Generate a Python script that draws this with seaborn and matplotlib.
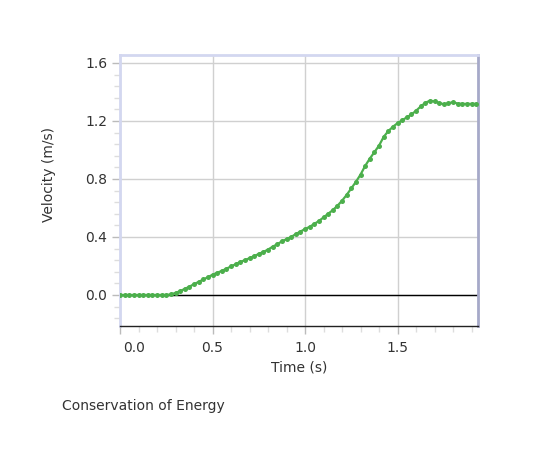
import numpy as np
import pandas as pd
import seaborn as sns
import matplotlib.pyplot as plt
from matplotlib.ticker import MultipleLocator
from matplotlib.transforms import ScaledTranslation

# time samples (s), one every 0.025 s
time_s = [round(i * 0.025, 3) for i in range(78)]

velocity = [
    0.0, 0.0, 0.0, 0.0, 0.0, 0.0, 0.0, 0.0, 0.0, 0.0, 0.0,
    0.004, 0.014, 0.027, 0.042, 0.057, 0.075, 0.090, 0.107, 0.122, 0.140,
    0.153, 0.166, 0.181, 0.197, 0.212, 0.228, 0.240, 0.254, 0.268, 0.283,
    0.297, 0.313, 0.333, 0.350, 0.370, 0.385, 0.400, 0.420, 0.437, 0.455,
    0.470, 0.490, 0.510, 0.535, 0.560, 0.585, 0.615, 0.650, 0.690, 0.735,
    0.780, 0.830, 0.890, 0.940, 0.985, 1.030, 1.090, 1.130, 1.160, 1.185,
    1.205, 1.225, 1.245, 1.270, 1.300, 1.325, 1.340, 1.335, 1.325, 1.315,
    1.322, 1.330, 1.320, 1.318, 1.318, 1.318, 1.318,
]

x_ticks = [0.0, 0.5, 1.0, 1.5]
y_ticks = [0.0, 0.4, 0.8, 1.2, 1.6]

GREEN = "#4caf4c"
TEXT = "#333333"


def main():
    df = pd.DataFrame({"time": time_s, "velocity": velocity})

    sns.set_style("white")
    plt.rcParams["font.family"] = ["DejaVu Sans"]
    plt.rcParams["xtick.bottom"] = True
    plt.rcParams["ytick.left"] = True

    fig = plt.figure(figsize=(5.49, 4.58), dpi=100)
    ax = fig.add_axes([120 / 549, 1 - 326 / 458, 358 / 549, 271 / 458])

    ax.axhline(0, color="black", lw=1, zorder=1)
    sns.lineplot(data=df, x="time", y="velocity", ax=ax, color=GREEN,
                 lw=1.6, marker="o", markersize=3.6, markeredgewidth=0,
                 zorder=3)

    ax.set_xlim(0.011, 1.935)
    ax.set_ylim(-0.214, 1.655)
    ax.set_xticks(x_ticks)
    ax.set_yticks(y_ticks)
    ax.set_xticklabels([f"{v:.1f}" for v in x_ticks])
    ax.set_yticklabels([f"{v:.1f}" for v in y_ticks])
    ax.xaxis.set_minor_locator(MultipleLocator(0.1))
    ax.yaxis.set_minor_locator(MultipleLocator(0.08))

    ax.grid(True, which="major", color="#d0d0d0", lw=1)
    ax.set_axisbelow(True)

    ax.tick_params(axis="both", which="major", direction="out", length=6,
                   width=1, color="#bbbbbb", labelsize=10, labelcolor=TEXT,
                   bottom=True, left=True)
    ax.tick_params(axis="both", which="minor", direction="out", length=4,
                   width=1, color="#dddddd", bottom=True, left=True)
    ax.tick_params(axis="x", which="major", pad=5)
    ax.tick_params(axis="y", which="major", pad=3)

    # first x label sits inside the plot edge in the original
    lbl = ax.get_xticklabels()[0]
    lbl.set_transform(lbl.get_transform() + ScaledTranslation(0.14, 0, fig.dpi_scale_trans))

    for side in ["left", "top"]:
        ax.spines[side].set_color("#d3d7f0")
        ax.spines[side].set_linewidth(2)
    ax.spines["right"].set_color("#a6a9c9")
    ax.spines["right"].set_linewidth(2)
    ax.spines["bottom"].set_color("#222222")
    ax.spines["bottom"].set_linewidth(1)

    ax.set_xlabel("Time (s)", fontsize=10, color=TEXT, labelpad=4)
    ax.set_ylabel("Velocity (m/s)", fontsize=10, color=TEXT)
    ax.yaxis.set_label_coords(-0.18, 0.56)

    fig.text(62 / 549, 1 - 406 / 458, "Conservation of Energy", fontsize=10,
             color=TEXT, va="center", ha="left")

    fig.savefig("out.png", dpi=100)


if __name__ == "__main__":
    main()
